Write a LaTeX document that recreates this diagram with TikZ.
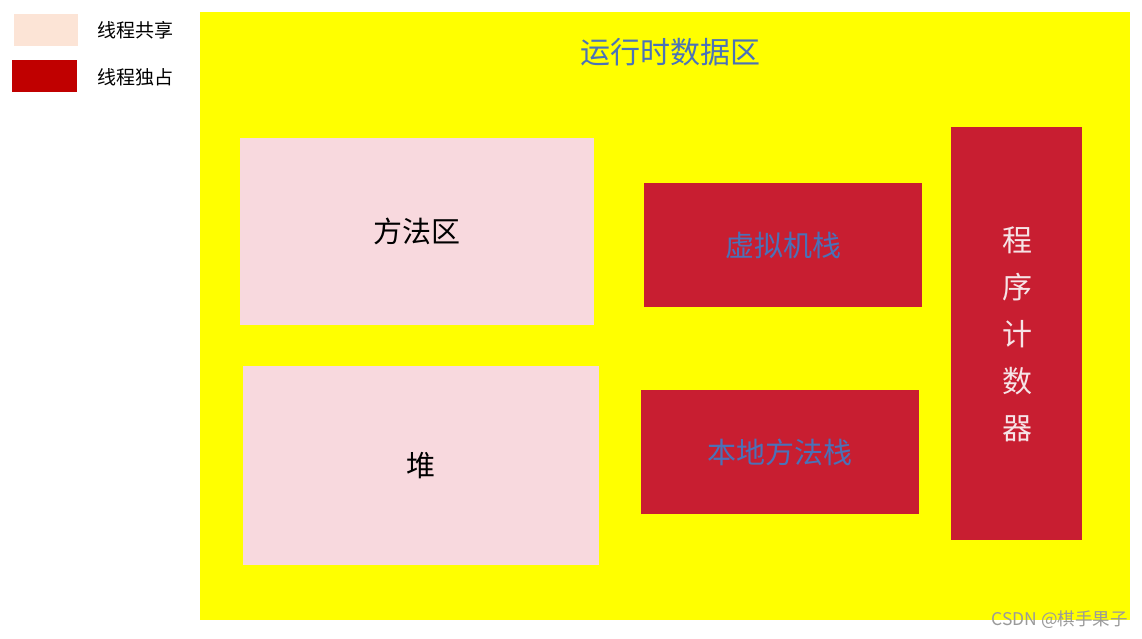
\documentclass[tikz,border=0pt]{standalone}
\usepackage{fontspec}
\setmainfont{Noto Sans CJK SC}
\definecolor{peach}{HTML}{FCE4D6}
\definecolor{darkred}{HTML}{C00000}
\definecolor{areayellow}{HTML}{FFFF00}
\definecolor{sharedpink}{HTML}{F8D9DE}
\definecolor{ownred}{HTML}{C81E31}
\definecolor{labelblue}{HTML}{4A72B8}
\definecolor{pclabel}{HTML}{F6E4E7}
\definecolor{markgray}{HTML}{9A9A9A}
\tikzset{
  legendbox/.style={draw=none, inner sep=0pt, anchor=north west},
  legendtext/.style={anchor=west, inner sep=0pt, font=\fontsize{19}{22}\selectfont, text=black},
  sharedbox/.style={fill=sharedpink, draw=none, inner sep=0pt, anchor=north west, font=\fontsize{29}{34}\selectfont, text=black},
  ownbox/.style={fill=ownred, draw=none, inner sep=0pt, anchor=north west, font=\fontsize{29}{34}\selectfont, text=labelblue},
}
\begin{document}
\begin{tikzpicture}[x=1pt,y=-1pt]
\useasboundingbox (0,0) rectangle (1142,639);
\fill[white] (0,0) rectangle (1142,639);
% legend
\node[legendbox, fill=peach, minimum width=64pt, minimum height=32pt] (lg1) at (14,14) {};
\node[legendtext] (lt1) at (97,30) {线程共享};
\node[legendbox, fill=darkred, minimum width=65pt, minimum height=32pt] (lg2) at (12,60) {};
\node[legendtext] (lt2) at (97,77) {线程独占};
% runtime data area
\node[fill=areayellow, draw=none, inner sep=0pt, anchor=north west, minimum width=930pt, minimum height=608pt] (area) at (200,12) {};
\node[font=\fontsize{30}{36}\selectfont, text=labelblue, inner sep=0pt] (title) at (670,52) {运行时数据区};
% shared regions
\node[sharedbox, minimum width=354pt, minimum height=187pt] (method) at (240,138) {方法区};
\node[sharedbox, minimum width=356pt, minimum height=199pt] (heap) at (243,366) {堆};
% thread-owned regions
\node[ownbox, minimum width=278pt, minimum height=124pt] (vmstack) at (644,183) {虚拟机栈};
\node[ownbox, minimum width=278pt, minimum height=124pt] (nstack) at (641,390) {本地方法栈};
\node[fill=ownred, draw=none, inner sep=0pt, anchor=north west, minimum width=131pt, minimum height=413pt] (pc) at (951,127) {};
\node[font=\fontsize{30}{47}\selectfont, text=pclabel, inner sep=0pt, align=center] (pclab) at (1017,334) {程\\序\\计\\数\\器};
% watermark
\node[anchor=east, inner sep=0pt, font=\fontsize{17.5}{20}\selectfont, text=markgray] (mark) at (1128,620) {CSDN @棋手果子};
\end{tikzpicture}
\end{document}
